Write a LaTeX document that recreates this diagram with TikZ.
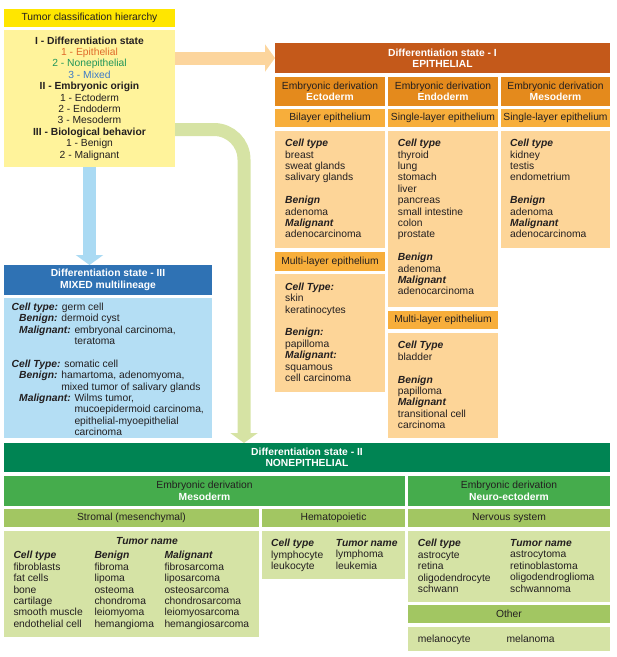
\documentclass[tikz,border=0pt]{standalone}
\usepackage{fontspec}
\setmainfont{Liberation Sans}
\usetikzlibrary{arrows.meta}
\definecolor{ink}{HTML}{231F20}
\definecolor{ttl}{HTML}{FFE600}
\definecolor{lst}{HTML}{FFF39B}
\definecolor{epitxt}{HTML}{E06A2A}
\definecolor{nontxt}{HTML}{21965A}
\definecolor{mixtxt}{HTML}{3C7AC8}
\definecolor{epihead}{HTML}{C4591A}
\definecolor{epideriv}{HTML}{E48A1C}
\definecolor{epilayer}{HTML}{F7AE3B}
\definecolor{epicell}{HTML}{FDD598}
\definecolor{oarrow}{HTML}{FCD59D}
\definecolor{mixhead}{HTML}{2F72B4}
\definecolor{mixcell}{HTML}{B4DEF4}
\definecolor{barrow}{HTML}{AADAF3}
\definecolor{nonhead}{HTML}{008453}
\definecolor{nonderiv}{HTML}{45AC4C}
\definecolor{nonlayer}{HTML}{A2C662}
\definecolor{noncell}{HTML}{D5E3A5}
\definecolor{garrow}{HTML}{D6E3A4}
\newcommand\bfit[1]{\textbf{\textit{#1}}}
\begin{document}
\begin{tikzpicture}[x=1pt,y=-1pt,
    every node/.style={font=\fontsize{10.3}{11.4}\selectfont, text=ink},
    bx/.style 2 args={anchor=north west, inner sep=0pt, outer sep=0pt, align=center,
      minimum width=#1, minimum height=#2},
    tx/.style={anchor=north west, inner sep=0pt, align=left},
    band/.style={line width=13pt, -{Triangle[length=10pt,width=27pt]}}]
  \useasboundingbox (0,0) rectangle (617,657);
  \node[bx={171}{18}, fill=ttl] (title) at (4,9) {Tumor classification hierarchy};
  \node[bx={171}{137}, fill=lst] (list) at (4,30) {\textbf{I - Differentiation state}\\
    \textcolor{epitxt}{1 - Epithelial}\\\textcolor{nontxt}{2 - Nonepithelial}\\
    \textcolor{mixtxt}{3 - Mixed}\\\textbf{II - Embryonic origin}\\1 - Ectoderm\\
    2 - Endoderm\\3 - Mesoderm\\\textbf{III - Biological behavior}\\1 - Benign\\2 - Malignant};
  \node[bx={335}{30}, fill=epihead, text=white] (epi) at (275,43)
    {\textbf{Differentiation state - I}\\\textbf{EPITHELIAL}};
  \node[bx={110}{29}, fill=epideriv] (ectoD) at (275,77)
    {Embryonic derivation\\\textcolor{white}{\textbf{Ectoderm}}};
  \node[bx={110}{29}, fill=epideriv] (endoD) at (388,77)
    {Embryonic derivation\\\textcolor{white}{\textbf{Endoderm}}};
  \node[bx={109}{29}, fill=epideriv] (mesoD) at (501,77)
    {Embryonic derivation\\\textcolor{white}{\textbf{Mesoderm}}};
  \node[bx={110}{18}, fill=epilayer] (ectoL) at (275,109) {Bilayer epithelium};
  \node[bx={110}{18}, fill=epilayer] (endoL) at (388,109) {Single-layer epithelium};
  \node[bx={109}{18}, fill=epilayer] (mesoL) at (501,109) {Single-layer epithelium};
  \node[bx={110}{117}, fill=epicell] (ectoC) at (275,131) {};
  \node[bx={110}{176}, fill=epicell] (endoC) at (388,131) {};
  \node[bx={109}{117}, fill=epicell] (mesoC) at (501,131) {};
  \node[tx] (ectoT) at (285,139) {\bfit{Cell type}\\breast\\sweat glands\\salivary glands\\[11.4pt]
    \bfit{Benign}\\adenoma\\\bfit{Malignant}\\adenocarcinoma};
  \node[tx] (endoT) at (397.7,139) {\bfit{Cell type}\\thyroid\\lung\\stomach\\liver\\pancreas\\
    small intestine\\colon\\prostate\\[11.4pt]\bfit{Benign}\\adenoma\\\bfit{Malignant}\\adenocarcinoma};
  \node[tx] (mesoT) at (510,139) {\bfit{Cell type}\\kidney\\testis\\endometrium\\[11.4pt]
    \bfit{Benign}\\adenoma\\\bfit{Malignant}\\adenocarcinoma};
  \node[bx={110}{19}, fill=epilayer] (ectoL2) at (275,252) {Multi-layer epithelium};
  \node[bx={110}{118}, fill=epicell] (ectoC2) at (275,274) {};
  \node[tx] (ectoT2) at (285,282.7) {\bfit{Cell Type:}\\skin\\keratinocytes\\[11.4pt]
    \bfit{Benign:}\\papilloma\\\bfit{Malignant:}\\squamous\\cell carcinoma};
  \node[bx={110}{18}, fill=epilayer] (endoL2) at (388,311) {Multi-layer epithelium};
  \node[bx={110}{105}, fill=epicell] (endoC2) at (388,333) {};
  \node[tx] (endoT2) at (397.7,341.3) {\bfit{Cell Type}\\bladder\\[11.4pt]
    \bfit{Benign}\\papilloma\\\bfit{Malignant}\\transitional cell\\carcinoma};
  \node[bx={208}{30}, fill=mixhead, text=white] (mix) at (4,265)
    {\textbf{Differentiation state - III}\\\textbf{MIXED multilineage}};
  \node[bx={208}{140}, fill=mixcell] (mixC) at (4,298) {};
  \node[tx] (mixT) at (11.5,302.7) {\bfit{Cell type:} germ cell\\
    \hspace*{7.5pt}\bfit{Benign:} dermoid cyst\\
    \hspace*{7.5pt}\bfit{Malignant:} embryonal carcinoma,\\
    \hspace*{7.5pt}\phantom{\bfit{Malignant:} }teratoma\\[11.4pt]
    \bfit{Cell Type:} somatic cell\\
    \hspace*{7.5pt}\bfit{Benign:} hamartoma, adenomyoma,\\
    \hspace*{7.5pt}\phantom{\bfit{Benign:} }mixed tumor of salivary glands\\
    \hspace*{7.5pt}\bfit{Malignant:} Wilms tumor,\\
    \hspace*{7.5pt}\phantom{\bfit{Malignant:} }mucoepidermoid carcinoma,\\
    \hspace*{7.5pt}\phantom{\bfit{Malignant:} }epithelial-myoepithelial\\
    \hspace*{7.5pt}\phantom{\bfit{Malignant:} }carcinoma};
  \node[bx={606}{29}, fill=nonhead, text=white] (non) at (4,443)
    {\textbf{Differentiation state - II}\\\textbf{NONEPITHELIAL}};
  \node[bx={401}{30}, fill=nonderiv] (nonM) at (4,476)
    {Embryonic derivation\\\textcolor{white}{\textbf{Mesoderm}}};
  \node[bx={202}{30}, fill=nonderiv] (nonN) at (408,476)
    {Embryonic derivation\\\textcolor{white}{\textbf{Neuro-ectoderm}}};
  \node[bx={255}{18}, fill=nonlayer] (strL) at (4,509) {Stromal (mesenchymal)};
  \node[bx={143}{18}, fill=nonlayer] (hemL) at (262,509) {Hematopoietic};
  \node[bx={202}{18}, fill=nonlayer] (nerL) at (408,509) {Nervous system};
  \node[bx={255}{106}, fill=noncell] (strC) at (4,531) {};
  \node[bx={143}{48}, fill=noncell] (hemC) at (262,531) {};
  \node[bx={202}{71}, fill=noncell] (nerC) at (408,531) {};
  \node[anchor=center, inner sep=0pt] (strN) at (147,541) {\bfit{Tumor name}};
  \node[tx] (strT1) at (13.3,551.3) {\bfit{Cell type}\\fibroblasts\\fat cells\\bone\\cartilage\\
    smooth muscle\\endothelial cell};
  \node[tx] (strT2) at (94.3,551.3) {\bfit{Benign}\\fibroma\\lipoma\\osteoma\\chondroma\\
    leiomyoma\\hemangioma};
  \node[tx] (strT3) at (164.3,551.3) {\bfit{Malignant}\\fibrosarcoma\\liposarcoma\\osteosarcoma\\
    chondrosarcoma\\leiomyosarcoma\\hemangiosarcoma};
  \node[tx] (hemT1) at (271,539.3) {\bfit{Cell type}\\lymphocyte\\leukocyte};
  \node[tx] (hemT2) at (335.7,539.3) {\bfit{Tumor name}\\lymphoma\\leukemia};
  \node[tx] (nerT1) at (417.7,539.3) {\bfit{Cell type}\\astrocyte\\retina\\oligodendrocyte\\schwann};
  \node[tx] (nerT2) at (510,539.3) {\bfit{Tumor name}\\astrocytoma\\retinoblastoma\\
    oligodendroglioma\\schwannoma};
  \node[bx={202}{18}, fill=nonlayer] (othL) at (408,605) {Other};
  \node[bx={202}{24}, fill=noncell] (othC) at (408,627) {};
  \node[tx] (othT1) at (417.7,635.3) {melanocyte};
  \node[tx] (othT2) at (506.3,635.3) {melanoma};
  \coordinate (gturn) at (244,129.5);
  \draw[band, draw=oarrow] (list.east |- epi.west) -- (epi.west);
  \draw[band, draw=garrow, rounded corners=30] (list.east |- gturn) -| (gturn |- non.north);
  \draw[band, draw=barrow] (list.south) -- (list.south |- mix.north);
\end{tikzpicture}
\end{document}
